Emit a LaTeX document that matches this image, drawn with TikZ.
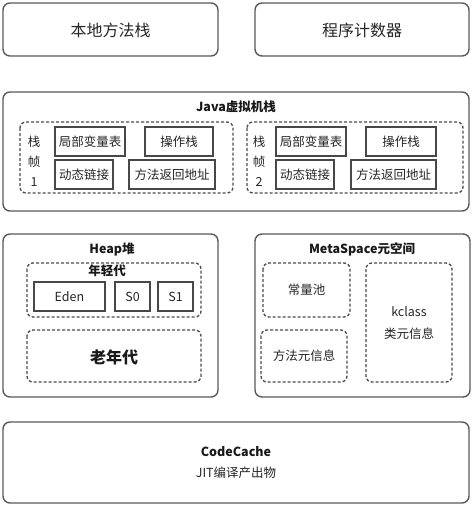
\documentclass[tikz,border=0pt]{standalone}
\usepackage{fontspec}
\setmainfont{Noto Sans CJK SC}
\begin{document}
\begin{tikzpicture}[x=1pt,y=-1pt,
  outer/.style={draw=black!65,line width=1.4pt,rounded corners=7pt,fill=white},
  dbox/.style={draw=black!70,line width=1.3pt,dashed,dash pattern=on 3pt off 2pt,rounded corners=6pt},
  sbox/.style={draw=black!72,line width=1.3pt},
  txt/.style={font=\fontsize{12.5}{14}\selectfont,text=black!85,inner sep=0pt},
  ttl/.style={font=\bfseries\fontsize{12.5}{14}\selectfont,text=black!90,inner sep=0pt}]
\useasboundingbox (0,0) rectangle (474,506);
% top boxes
\draw[outer] (3,3) rectangle (218,56);
\node[font=\fontsize{16}{18}\selectfont,text=black!85] (native) at (110.5,30) {本地方法栈};
\draw[outer] (255,3) rectangle (469,56);
\node[font=\fontsize{16}{18}\selectfont,text=black!85] (pc) at (362,30) {程序计数器};
% JVM stack
\draw[outer] (3,92) rectangle (469,211);
\node[ttl] (jvm) at (236,107) {Java虚拟机栈};
\draw[dbox] (20,122) rectangle (233,193);
\node[txt] (z1a) at (34,142) {栈};
\node[txt] (z1b) at (34,162) {帧};
\node[txt] (z1c) at (34,182) {1};
\draw[sbox] (55,127) rectangle (125,156); \node[txt] (l1) at (90,141.5) {局部变量表};
\draw[sbox] (145,127) rectangle (213,156); \node[txt] (o1) at (179,141.5) {操作栈};
\draw[sbox] (55,160) rectangle (113,189); \node[txt] (d1) at (84,174.5) {动态链接};
\draw[sbox] (129,160) rectangle (215,189); \node[txt] (r1) at (172,174.5) {方法返回地址};
\draw[dbox] (247,122) rectangle (463,193);
\node[txt] (z2a) at (259,142) {栈};
\node[txt] (z2b) at (259,162) {帧};
\node[txt] (z2c) at (259,182) {2};
\draw[sbox] (276,127) rectangle (346,156); \node[txt] (l2) at (311,141.5) {局部变量表};
\draw[sbox] (366,127) rectangle (436,156); \node[txt] (o2) at (401,141.5) {操作栈};
\draw[sbox] (276,160) rectangle (334,189); \node[txt] (d2) at (305,174.5) {动态链接};
\draw[sbox] (351,160) rectangle (436,189); \node[txt] (r2) at (393.5,174.5) {方法返回地址};
% Heap
\draw[outer] (3,234) rectangle (218,397);
\node[ttl] (heap) at (112,249) {Heap堆};
\draw[dbox] (27,263) rectangle (201,317);
\node[ttl] (young) at (107,271) {年轻代};
\draw[sbox] (34,282) rectangle (105,311); \node[txt] (eden) at (69.5,296.5) {Eden};
\draw[sbox] (115,282) rectangle (150,311); \node[txt] (s0) at (132.5,296.5) {S0};
\draw[sbox] (158,282) rectangle (193,311); \node[txt] (s1) at (175.5,296.5) {S1};
\draw[dbox] (27,330) rectangle (201,382);
\node[font=\bfseries\fontsize{16}{18}\selectfont,text=black!90] (old) at (114,357) {老年代};
% MetaSpace
\draw[outer] (255,234) rectangle (470,397);
\node[ttl] (meta) at (362,249) {MetaSpace元空间};
\draw[dbox] (263,263) rectangle (350,317);
\node[txt] (pool) at (306.5,290) {常量池};
\draw[dbox] (261,330) rectangle (347,382);
\node[txt] (minfo) at (304,356) {方法元信息};
\draw[dbox] (366,263) rectangle (452,382);
\node[txt] (kc) at (409,312) {kclass};
\node[txt] (kinfo) at (409,334) {类元信息};
% CodeCache
\draw[outer] (3,422) rectangle (469,503);
\node[ttl] (cc) at (236,452) {CodeCache};
\node[txt] (jit) at (236,473) {JIT编译产出物};
\end{tikzpicture}
\end{document}
